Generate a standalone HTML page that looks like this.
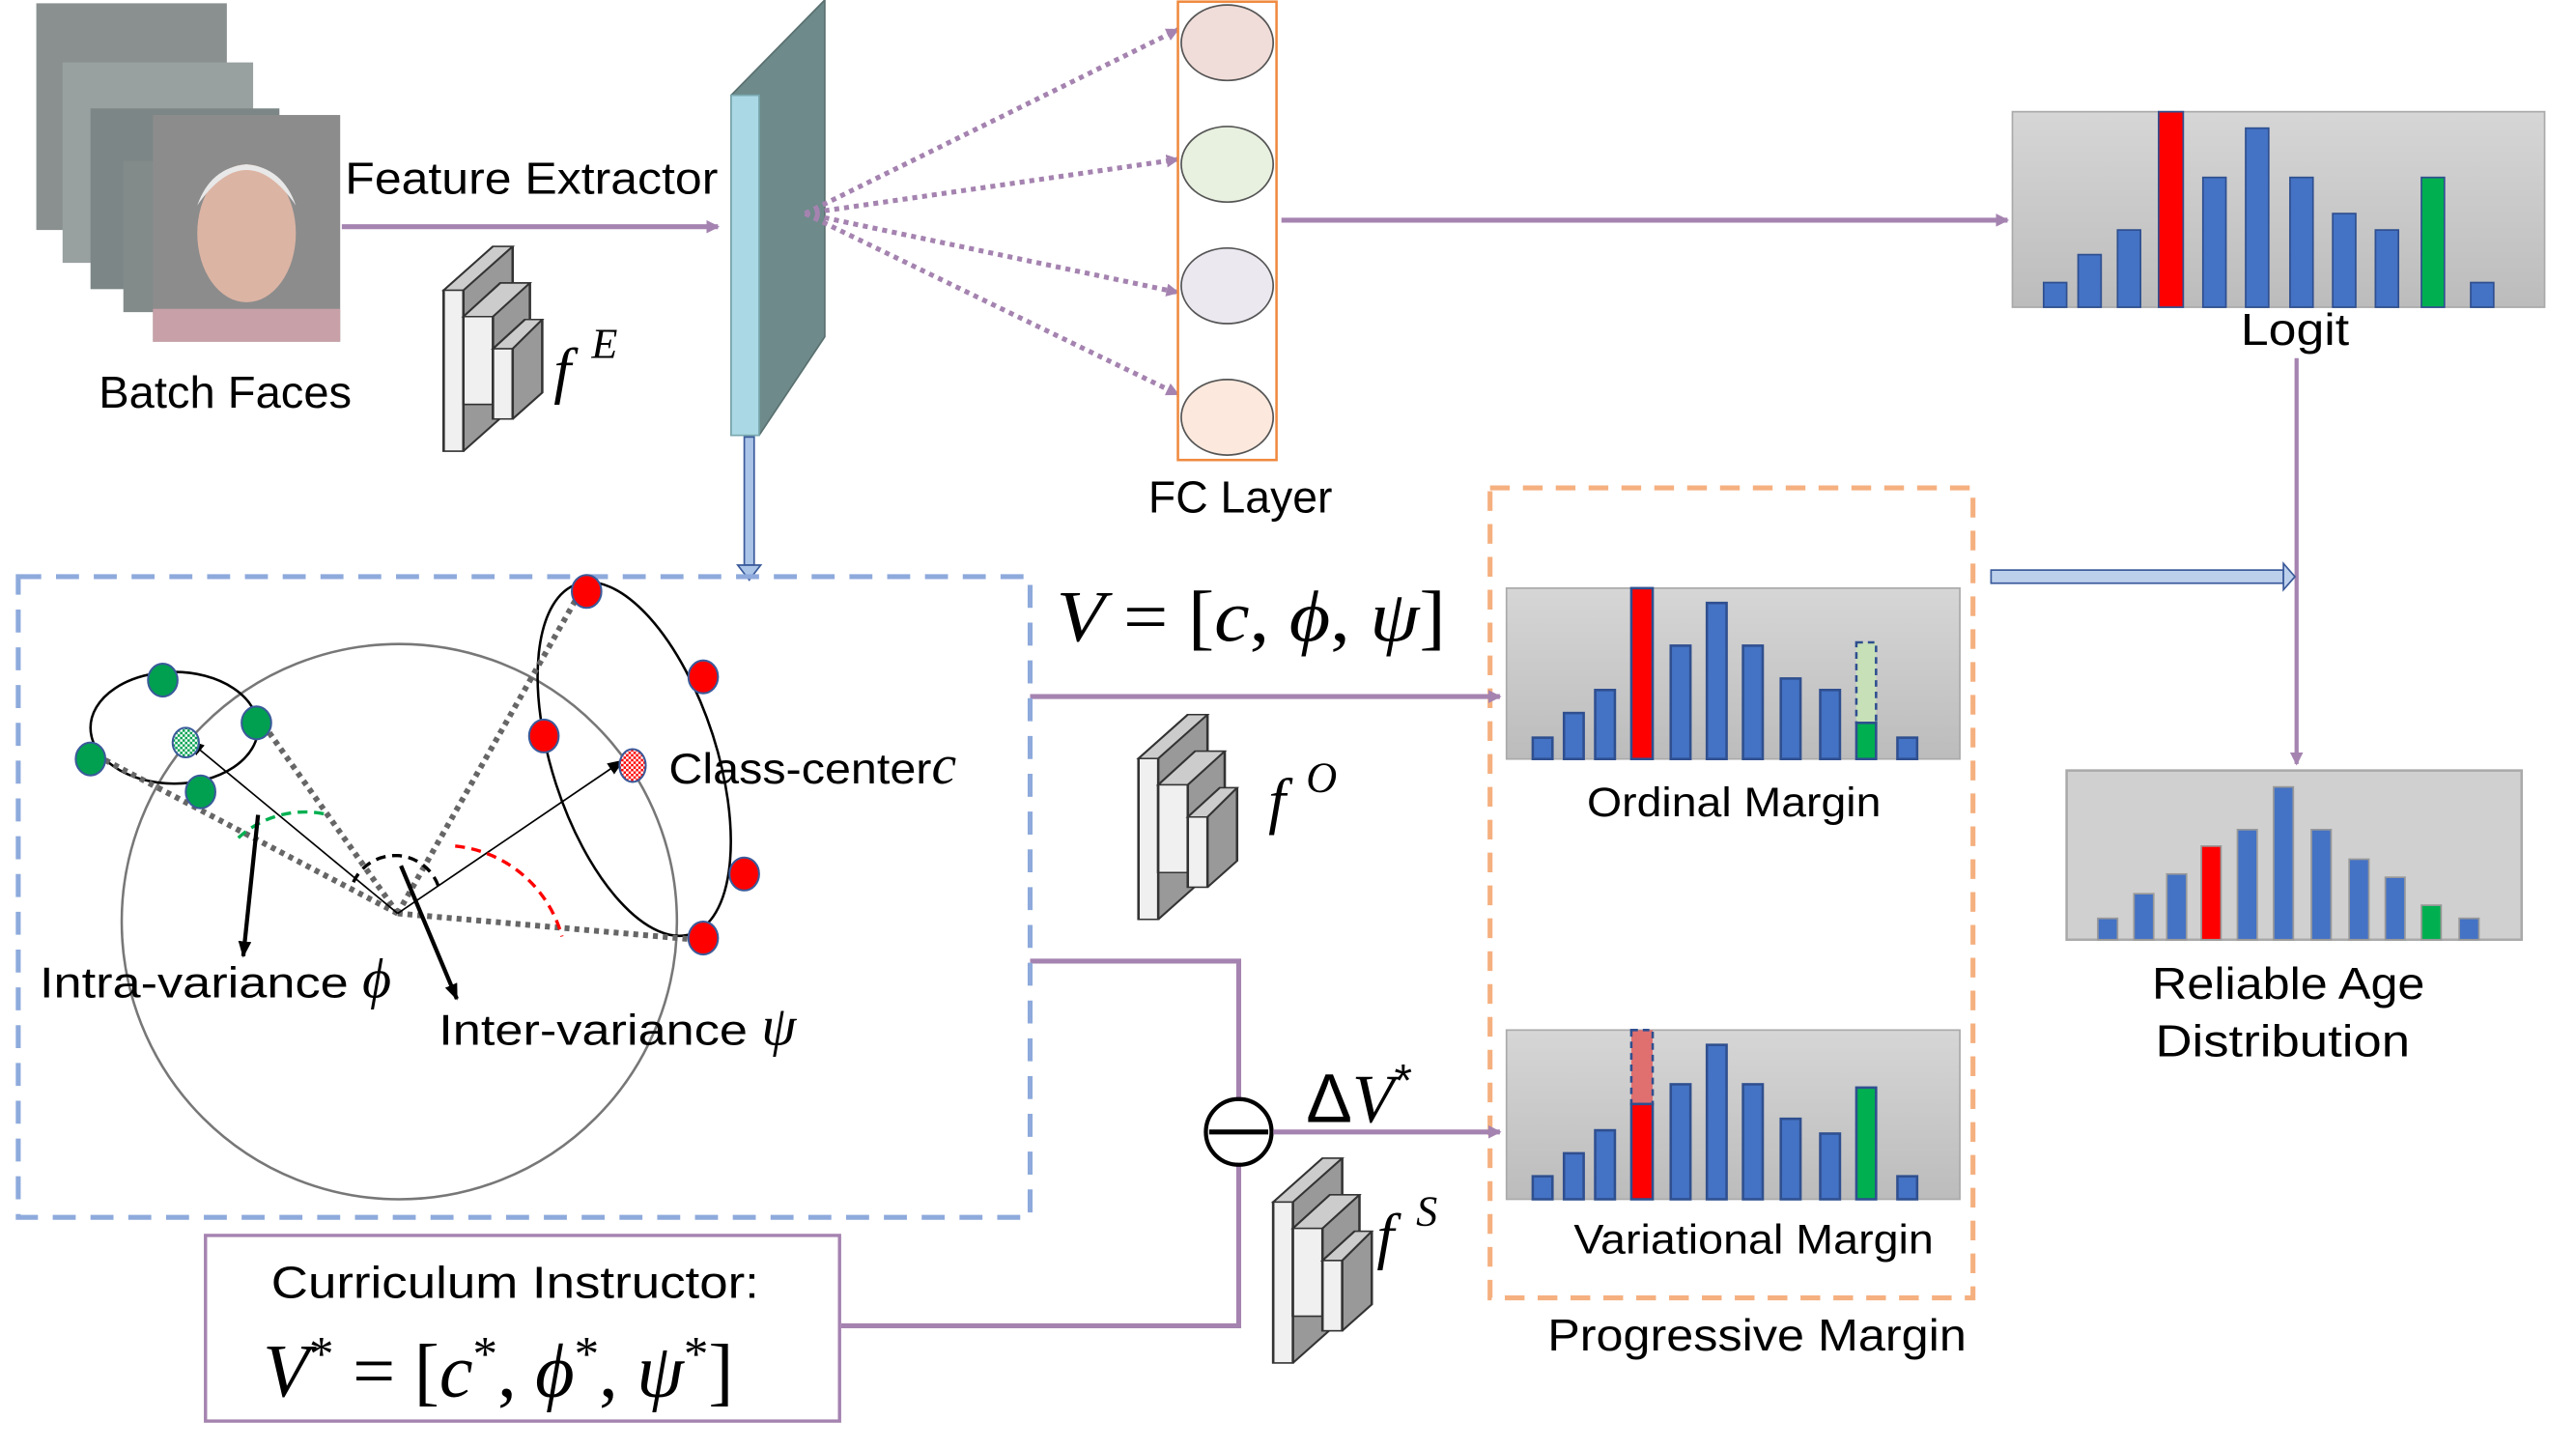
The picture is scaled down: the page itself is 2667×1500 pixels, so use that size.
<!DOCTYPE html>
<html><head><meta charset="utf-8"><style>
html,body{margin:0;padding:0;background:#fff;}
svg{display:block;}
text{font-family:"Liberation Sans",sans-serif;fill:#000;}
.m{font-family:"Liberation Serif",serif;font-style:italic;}
</style></head><body>
<svg width="2667" height="1500" viewBox="0 0 1568 882" xmlns="http://www.w3.org/2000/svg">
<defs>
<marker id="ap" markerWidth="8" markerHeight="8" refX="7" refY="4" orient="auto" markerUnits="userSpaceOnUse"><path d="M0,0 L8,4 L0,8z" fill="#a583b0"/></marker>
<marker id="ab" markerWidth="10" markerHeight="10" refX="9" refY="5" orient="auto" markerUnits="userSpaceOnUse"><path d="M0,1 L10,5 L0,9z" fill="#000"/></marker>
<linearGradient id="g" x1="0" y1="0" x2="0" y2="1"><stop offset="0" stop-color="#d6d6d6"/><stop offset="1" stop-color="#bcbcbc"/></linearGradient>
<pattern id="pg" width="3" height="3" patternUnits="userSpaceOnUse"><rect width="3" height="3" fill="#fff"/><rect width="1.5" height="1.5" fill="#00a050"/><rect x="1.5" y="1.5" width="1.5" height="1.5" fill="#00a050"/></pattern>
<pattern id="pr" width="3" height="3" patternUnits="userSpaceOnUse"><rect width="3" height="3" fill="#fff"/><rect width="1.5" height="1.5" fill="#f00"/><rect x="1.5" y="1.5" width="1.5" height="1.5" fill="#f00"/></pattern>
<g id="cube">
<polygon points="0,30 20,0 28,0 28,110 8,140 0,140" fill="#999" stroke="#333" stroke-width="1"/>
<polygon points="0,30 20,0 28,0 8,30" fill="#ccc" stroke="#333"/>
<rect x="0" y="30" width="8" height="110" fill="#f0f0f0" stroke="#333"/>
<polygon points="8,48 23,25 35,25 35,85 20,108 8,108" fill="#999" stroke="#333"/>
<polygon points="8,48 23,25 35,25 20,48" fill="#ccc" stroke="#333"/>
<rect x="8" y="48" width="12" height="60" fill="#f0f0f0" stroke="#333"/>
<polygon points="20,70 33,50 40,50 40,100 28,118 20,118" fill="#999" stroke="#333"/>
<polygon points="20,70 33,50 40,50 28,70" fill="#ccc" stroke="#333"/>
<rect x="20" y="70" width="8" height="48" fill="#f0f0f0" stroke="#333"/>
</g>
</defs>

<!-- faces -->
<rect x="22" y="2" width="116" height="138" fill="#8a9090"/>
<rect x="38" y="38" width="116" height="122" fill="#98a0a0"/>
<rect x="55" y="66" width="115" height="110" fill="#7d8686"/>
<rect x="75" y="98" width="115" height="92" fill="#838a8a"/>
<rect x="93" y="70" width="114" height="138" fill="#8c8c8c"/>
<ellipse cx="150" cy="142" rx="30" ry="42" fill="#dcb4a4"/>
<path d="M120,125 Q150,82 180,125 Q172,102 150,100 Q128,102 120,125z" fill="#e8e8e8"/>
<rect x="93" y="188" width="114" height="20" fill="#c8a0a8"/>

<text x="210" y="118" font-size="27" textLength="227" lengthAdjust="spacingAndGlyphs">Feature Extractor</text>
<text x="60" y="248" font-size="27" textLength="154" lengthAdjust="spacingAndGlyphs">Batch Faces</text>
<line x1="208" y1="138" x2="437" y2="138" stroke="#a583b0" stroke-width="3" marker-end="url(#ap)"/>
<use href="#cube" transform="translate(270,150) scale(1.5,0.89)"/>
<text class="m" x="337" y="238" font-size="38">f</text><text class="m" x="360" y="218" font-size="26">E</text>

<!-- slab -->
<polygon points="445,58 502,0 502,205 462,265 445,265" fill="#6e8a8a" stroke="#5a7070"/>
<rect x="445" y="58" width="17" height="207" fill="#aad8e4" stroke="#7aa8b0"/>
<rect x="453" y="266" width="6" height="78" fill="#aac4e8" stroke="#3a5a9a"/>
<polygon points="449,344 463,344 456,353" fill="#aac4e8" stroke="#3a5a9a"/>

<!-- dotted lines -->
<g stroke="#a583b0" stroke-width="3" stroke-dasharray="3,3" fill="none">
<line x1="490" y1="130" x2="717" y2="18" marker-end="url(#ap)"/>
<line x1="490" y1="130" x2="717" y2="97" marker-end="url(#ap)"/>
<line x1="490" y1="130" x2="717" y2="178" marker-end="url(#ap)"/>
<line x1="490" y1="130" x2="717" y2="240" marker-end="url(#ap)"/>
</g>
<rect x="717" y="1" width="60" height="279" fill="none" stroke="#f08a40" stroke-width="1.5"/>
<g stroke="#555" stroke-width="1">
<ellipse cx="747" cy="26" rx="28" ry="23" fill="#f0dcd8"/>
<ellipse cx="747" cy="100" rx="28" ry="23" fill="#e8f0e0"/>
<ellipse cx="747" cy="174" rx="28" ry="23" fill="#ebe8f0"/>
<ellipse cx="747" cy="254" rx="28" ry="23" fill="#fce8dc"/>
</g>
<text x="699" y="312" font-size="27" textLength="112" lengthAdjust="spacingAndGlyphs">FC Layer</text>
<line x1="780" y1="134" x2="1222" y2="134" stroke="#a583b0" stroke-width="3" marker-end="url(#ap)"/>

<!-- logit chart -->
<rect x="1225" y="68" width="324" height="119" fill="url(#g)" stroke="#aaa"/>
<g stroke="#2f4f8f" stroke-width="1">
<rect x="1244" y="172" width="14" height="15" fill="#4472c4"/>
<rect x="1265" y="155" width="14" height="32" fill="#4472c4"/>
<rect x="1289" y="140" width="14" height="47" fill="#4472c4"/>
<rect x="1314" y="68" width="15" height="119" fill="#f00"/>
<rect x="1341" y="108" width="14" height="79" fill="#4472c4"/>
<rect x="1367" y="78" width="14" height="109" fill="#4472c4"/>
<rect x="1394" y="108" width="14" height="79" fill="#4472c4"/>
<rect x="1420" y="130" width="14" height="57" fill="#4472c4"/>
<rect x="1446" y="140" width="14" height="47" fill="#4472c4"/>
<rect x="1474" y="108" width="14" height="79" fill="#00b050"/>
<rect x="1504" y="172" width="14" height="15" fill="#4472c4"/>
</g>
<text x="1364" y="210" font-size="27" textLength="66" lengthAdjust="spacingAndGlyphs">Logit</text>
<line x1="1398" y1="218" x2="1398" y2="465" stroke="#a583b0" stroke-width="2.5" marker-end="url(#ap)"/>
<rect x="1212" y="347" width="178" height="8" fill="#bcd0ec" stroke="#3a5a9a"/>
<polygon points="1390,343 1397,351 1390,359" fill="#bcd0ec" stroke="#3a5a9a"/>

<!-- reliable -->
<rect x="1258" y="469" width="277" height="103" fill="#d0d0d0" stroke="#aaa" stroke-width="1.5"/>
<g stroke="#999" stroke-width="1">
<rect x="1277" y="559" width="12" height="13" fill="#4472c4"/>
<rect x="1299" y="544" width="12" height="28" fill="#4472c4"/>
<rect x="1319" y="532" width="12" height="40" fill="#4472c4"/>
<rect x="1340" y="515" width="12" height="57" fill="#f00"/>
<rect x="1362" y="505" width="12" height="67" fill="#4472c4"/>
<rect x="1384" y="479" width="12" height="93" fill="#4472c4"/>
<rect x="1407" y="505" width="12" height="67" fill="#4472c4"/>
<rect x="1430" y="523" width="12" height="49" fill="#4472c4"/>
<rect x="1452" y="534" width="12" height="38" fill="#4472c4"/>
<rect x="1474" y="551" width="12" height="21" fill="#00b050"/>
<rect x="1497" y="559" width="12" height="13" fill="#4472c4"/>
</g>
<text x="1310" y="608" font-size="27" textLength="166" lengthAdjust="spacingAndGlyphs">Reliable Age</text>
<text x="1312" y="643" font-size="27" textLength="155" lengthAdjust="spacingAndGlyphs">Distribution</text>

<!-- orange box -->
<rect x="907" y="297" width="294" height="493" fill="none" stroke="#f5b080" stroke-width="3" stroke-dasharray="12,8"/>
<rect x="917" y="358" width="276" height="104" fill="url(#g)" stroke="#aaa"/>
<g stroke="#2f4f8f" stroke-width="1.5">
<rect x="933" y="449" width="12" height="13" fill="#4472c4"/>
<rect x="952" y="434" width="12" height="28" fill="#4472c4"/>
<rect x="971" y="420" width="12" height="42" fill="#4472c4"/>
<rect x="993" y="358" width="13" height="104" fill="#f00"/>
<rect x="1017" y="393" width="12" height="69" fill="#4472c4"/>
<rect x="1039" y="367" width="12" height="95" fill="#4472c4"/>
<rect x="1061" y="393" width="12" height="69" fill="#4472c4"/>
<rect x="1084" y="413" width="12" height="49" fill="#4472c4"/>
<rect x="1108" y="420" width="12" height="42" fill="#4472c4"/>
<rect x="1130" y="391" width="12" height="49" fill="#c8e0b8" stroke-dasharray="4,3"/>
<rect x="1130" y="440" width="12" height="22" fill="#00b050"/>
<rect x="1155" y="449" width="12" height="13" fill="#4472c4"/>
</g>
<text x="966" y="497" font-size="25" textLength="179" lengthAdjust="spacingAndGlyphs">Ordinal Margin</text>
<rect x="917" y="627" width="276" height="103" fill="url(#g)" stroke="#aaa"/>
<g stroke="#2f4f8f" stroke-width="1.5">
<rect x="933" y="716" width="12" height="14" fill="#4472c4"/>
<rect x="952" y="702" width="12" height="28" fill="#4472c4"/>
<rect x="971" y="688" width="12" height="42" fill="#4472c4"/>
<rect x="993" y="627" width="13" height="45" fill="#e07070" stroke-dasharray="4,3"/>
<rect x="993" y="672" width="13" height="58" fill="#f00"/>
<rect x="1017" y="660" width="12" height="70" fill="#4472c4"/>
<rect x="1039" y="636" width="12" height="94" fill="#4472c4"/>
<rect x="1061" y="660" width="12" height="70" fill="#4472c4"/>
<rect x="1084" y="681" width="12" height="49" fill="#4472c4"/>
<rect x="1108" y="690" width="12" height="40" fill="#4472c4"/>
<rect x="1130" y="662" width="12" height="68" fill="#00b050"/>
<rect x="1155" y="716" width="12" height="14" fill="#4472c4"/>
</g>
<text x="958" y="763" font-size="25" textLength="219" lengthAdjust="spacingAndGlyphs">Variational Margin</text>
<text x="942" y="822" font-size="27" textLength="255" lengthAdjust="spacingAndGlyphs">Progressive Margin</text>

<!-- V -->
<text class="m" x="643" y="390" font-size="44" textLength="237" lengthAdjust="spacingAndGlyphs">V <tspan font-style="normal">= [</tspan>c<tspan font-style="normal">,</tspan> ϕ<tspan font-style="normal">,</tspan> ψ<tspan font-style="normal">]</tspan></text>
<line x1="627" y1="424" x2="913" y2="424" stroke="#a583b0" stroke-width="3" marker-end="url(#ap)"/>
<use href="#cube" transform="translate(693,435) scale(1.5,0.89)"/>
<text class="m" x="772" y="500" font-size="38">f</text><text class="m" x="795" y="482" font-size="26">O</text>

<polyline points="627,585 754,585 754,668" fill="none" stroke="#a583b0" stroke-width="3"/>
<polyline points="754,710 754,807 512,807" fill="none" stroke="#a583b0" stroke-width="3"/>
<circle cx="754" cy="689" r="20" fill="#fff" stroke="#000" stroke-width="2.5"/>
<line x1="736" y1="689" x2="772" y2="689" stroke="#000" stroke-width="3"/>
<line x1="775" y1="689" x2="913" y2="689" stroke="#a583b0" stroke-width="3" marker-end="url(#ap)"/>
<text x="795" y="683" font-size="42" font-family="Liberation Serif,serif">Δ<tspan class="m">V</tspan><tspan font-size="28" dy="-16">*</tspan></text>
<use href="#cube" transform="translate(775,705) scale(1.5,0.89)"/>
<text class="m" x="838" y="765" font-size="38">f</text><text class="m" x="862" y="746" font-size="26">S</text>

<!-- curriculum -->
<rect x="125" y="752" width="386" height="113" fill="#fff" stroke="#a583b0" stroke-width="2"/>
<text x="165" y="790" font-size="27" textLength="297" lengthAdjust="spacingAndGlyphs">Curriculum Instructor:</text>
<text class="m" x="160" y="850" font-size="46">V<tspan font-style="normal" font-size="30" dy="-16">*</tspan><tspan font-style="normal" dy="16"> = [</tspan>c<tspan font-style="normal" font-size="30" dy="-16">*</tspan><tspan font-style="normal" dy="16">, </tspan>ϕ<tspan font-style="normal" font-size="30" dy="-16">*</tspan><tspan font-style="normal" dy="16">, </tspan>ψ<tspan font-style="normal" font-size="30" dy="-16">*</tspan><tspan font-style="normal" dy="16">]</tspan></text>

<!-- blue dashed box -->
<rect x="11" y="351" width="616" height="390" fill="none" stroke="#8eaadc" stroke-width="3" stroke-dasharray="14,9"/>

<!-- scatter -->
<circle cx="243" cy="561" r="169" fill="none" stroke="#777" stroke-width="1.5"/>
<ellipse cx="106" cy="443" rx="51" ry="34" fill="none" stroke="#000" stroke-width="1.5"/>
<ellipse cx="386" cy="462" rx="50" ry="112" transform="rotate(-18 386 462)" fill="none" stroke="#000" stroke-width="1.5"/>
<g stroke="#666" stroke-width="3.5" stroke-dasharray="3,3" fill="none">
<line x1="242" y1="556" x2="55" y2="458"/>
<line x1="242" y1="556" x2="156" y2="435"/>
<line x1="242" y1="556" x2="355" y2="357"/>
<line x1="242" y1="556" x2="424" y2="572"/>
</g>
<line x1="242" y1="556" x2="115" y2="451" stroke="#000" stroke-width="1" marker-end="url(#ab)"/>
<line x1="242" y1="556" x2="379" y2="463" stroke="#000" stroke-width="1" marker-end="url(#ab)"/>
<path d="M215,537 A28,28 0 0 1 267,540" fill="none" stroke="#000" stroke-width="2" stroke-dasharray="6,4"/>
<path d="M145,510 A60,60 0 0 1 200,496" fill="none" stroke="#00b050" stroke-width="2" stroke-dasharray="6,4"/>
<path d="M277,515 A75,75 0 0 1 342,570" fill="none" stroke="#f00" stroke-width="2" stroke-dasharray="6,4"/>
<line x1="157" y1="496" x2="148" y2="582" stroke="#000" stroke-width="2.5" marker-end="url(#ab)"/>
<line x1="244" y1="527" x2="278" y2="608" stroke="#000" stroke-width="2.5" marker-end="url(#ab)"/>
<g stroke="#3a5a9a" stroke-width="1.2">
<ellipse cx="99" cy="414" rx="9" ry="10" fill="#00a050"/>
<ellipse cx="156" cy="440" rx="9" ry="10" fill="#00a050"/>
<ellipse cx="55" cy="462" rx="9" ry="10" fill="#00a050"/>
<ellipse cx="122" cy="482" rx="9" ry="10" fill="#00a050"/>
<ellipse cx="113" cy="452" rx="8" ry="9" fill="url(#pg)"/>
<ellipse cx="357" cy="360" rx="9" ry="10" fill="#f00"/>
<ellipse cx="428" cy="412" rx="9" ry="10" fill="#f00"/>
<ellipse cx="331" cy="448" rx="9" ry="10" fill="#f00"/>
<ellipse cx="453" cy="532" rx="9" ry="10" fill="#f00"/>
<ellipse cx="428" cy="571" rx="9" ry="10" fill="#f00"/>
<ellipse cx="385" cy="466" rx="8" ry="10" fill="url(#pr)"/>
</g>
<text x="407" y="477" font-size="26"><tspan textLength="160" lengthAdjust="spacingAndGlyphs">Class-center</tspan><tspan class="m" font-size="34">c</tspan></text>
<text x="24" y="607" font-size="26"><tspan textLength="188" lengthAdjust="spacingAndGlyphs">Intra-variance</tspan><tspan class="m" font-size="34"> ϕ</tspan></text>
<text x="267" y="636" font-size="26"><tspan textLength="188" lengthAdjust="spacingAndGlyphs">Inter-variance</tspan><tspan class="m" font-size="34"> ψ</tspan></text>
</svg>
</body></html>
